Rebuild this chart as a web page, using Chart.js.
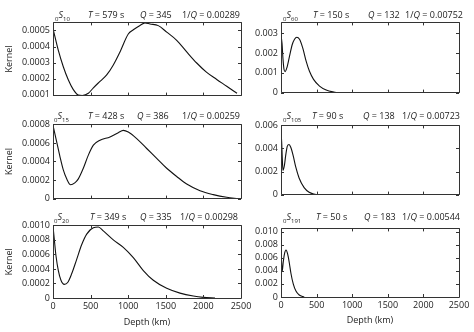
<!DOCTYPE html>
<html>
<head>
<meta charset="utf-8">
<script src="https://cdn.jsdelivr.net/npm/chart.js@4/dist/chart.umd.min.js"></script>
<style>
  body { margin: 0; background: #fff; width: 474px; height: 332px; overflow: hidden; position: relative;
         font-family: "Open Sans", "Noto Sans", sans-serif; color: #222; }
  canvas { position: absolute; }
  .it { position: absolute; height: 14px; line-height: 14px; font-size: 9px; white-space: nowrap; }
  .it i { font-style: italic; }
  .sb { font-size: 6px; position: relative; top: 3px; }
</style>
</head>
<body>
<canvas id="c10"></canvas>
<canvas id="c60"></canvas>
<canvas id="c15"></canvas>
<canvas id="c105"></canvas>
<canvas id="c20"></canvas>
<canvas id="c191"></canvas>

<script>
// depth (km) and kernel values
const depth10 = [0, 70, 137, 203, 270, 337, 390, 470, 537, 625, 714, 802, 891, 1001, 1068, 1157, 1223, 1290, 1400, 1512, 1645, 1778, 1911, 2044, 2177, 2310, 2447];
const kernel10 = [0.000512, 0.000378, 0.000275, 0.000194, 0.000133, 0.0000985, 0.0000965, 0.000110, 0.000144, 0.000184, 0.000224, 0.000286, 0.000367, 0.000478, 0.000504, 0.000531, 0.000547, 0.000540, 0.000530, 0.000490, 0.000439, 0.000367, 0.000298, 0.000240, 0.000196, 0.000154, 0.000110];

const depth15 = [0, 49, 93, 137, 182, 235, 290, 337, 403, 470, 537, 625, 758, 868, 935, 1001, 1113, 1246, 1379, 1512, 1645, 1778, 1955, 2131, 2310, 2460];
const kernel15 = [0.00079, 0.000611, 0.000451, 0.000309, 0.000213, 0.000149, 0.000170, 0.000213, 0.000327, 0.000469, 0.000576, 0.000629, 0.000665, 0.000711, 0.000736, 0.000718, 0.000647, 0.000540, 0.000434, 0.000327, 0.000238, 0.000157, 0.000085, 0.000043, 0.000014, 0.0];

const depth20 = [0, 18, 40, 71, 106, 150, 195, 248, 315, 381, 448, 537, 603, 669, 802, 935, 1068, 1201, 1334, 1512, 1689, 1866, 1999, 2154];
const kernel20 = [0.00099, 0.0008, 0.000578, 0.000378, 0.000244, 0.000187, 0.000213, 0.000333, 0.000533, 0.000733, 0.00088, 0.000969, 0.000978, 0.000924, 0.0008, 0.000698, 0.000556, 0.000378, 0.000244, 0.000133, 0.000067, 0.000027, 0.000009, 0.0];

const depth60 = [0, 14, 28, 42, 58, 82, 119, 157, 190, 222, 260, 306, 354, 400, 457, 541, 635, 775];
const kernel60 = [0.0029, 0.0025, 0.0017, 0.00118, 0.00106, 0.00125, 0.00183, 0.00242, 0.0027, 0.0028, 0.0027, 0.00225, 0.00158, 0.00108, 0.00067, 0.00033, 0.00013, 0.0];

const depth105 = [0, 9, 19, 28, 47, 66, 89, 113, 137, 170, 207, 254, 325, 395, 490];
const kernel105 = [0.0053, 0.0046, 0.0030, 0.0021, 0.0025, 0.0034, 0.0042, 0.00435, 0.0041, 0.0034, 0.0024, 0.00144, 0.0006, 0.0002, 0.0];

const depth191 = [0, 8, 16, 33, 51, 70, 93, 117, 140, 172, 210, 256, 326];
const kernel191 = [0.0070, 0.0053, 0.0039, 0.0055, 0.0067, 0.0072, 0.0066, 0.0052, 0.0036, 0.0020, 0.0009, 0.0003, 0.0];

// axis ticks
const depthTicks = [0, 500, 1000, 1500, 2000, 2500];
const yTicks10 = [0.0001, 0.0002, 0.0003, 0.0004, 0.0005];
const yTicks15 = [0, 0.0002, 0.0004, 0.0006, 0.0008];
const yTicks20 = [0, 0.0002, 0.0004, 0.0006, 0.0008, 0.0010];
const yTicks60 = [0, 0.001, 0.002, 0.003];
const yTicks105 = [0, 0.002, 0.004, 0.006];
const yTicks191 = [0, 0.002, 0.004, 0.006, 0.008, 0.010];

// panel titles: mode, period, Q, 1/Q
const modes = [
  { n: '10', T: '579', Q: '345', iq: '0.00289' },
  { n: '60', T: '150', Q: '132', iq: '0.00752' },
  { n: '15', T: '428', Q: '386', iq: '0.00259' },
  { n: '105', T: '90', Q: '138', iq: '0.00723' },
  { n: '20', T: '349', Q: '335', iq: '0.00298' },
  { n: '191', T: '50', Q: '183', iq: '0.00544' }
];

const FONT = '"Open Sans", "Noto Sans", sans-serif';
const INK = '#222';

// frame box with inward ticks on all four sides
const framePlugin = {
  id: 'boxFrame',
  afterDraw(chart) {
    const ctx = chart.ctx;
    const a = chart.chartArea;
    const xs = chart.scales.x, ys = chart.scales.y;
    const t = 3;
    ctx.save();
    ctx.strokeStyle = '#333';
    ctx.lineWidth = 1;
    ctx.beginPath();
    xs.ticks.forEach(tk => {
      const px = Math.round(xs.getPixelForValue(tk.value)) + 0.5;
      ctx.moveTo(px, a.bottom); ctx.lineTo(px, a.bottom - t);
      ctx.moveTo(px, a.top); ctx.lineTo(px, a.top + t);
    });
    ys.ticks.forEach(tk => {
      const py = Math.round(ys.getPixelForValue(tk.value)) + 0.5;
      ctx.moveTo(a.left, py); ctx.lineTo(a.left + t, py);
      ctx.moveTo(a.right, py); ctx.lineTo(a.right - t, py);
    });
    ctx.stroke();
    ctx.beginPath();
    ctx.rect(Math.round(a.left) + 0.5, Math.round(a.top) + 0.5,
             Math.round(a.right - a.left), Math.round(a.bottom - a.top));
    ctx.stroke();
    ctx.restore();
  }
};

function makePanel(id, box, depth, kernel, yTicks, yMin, yMax, dec, isLeft, isBottom) {
  const el = document.getElementById(id);
  el.style.left = box.left + 'px';
  el.style.top = box.top + 'px';
  el.style.width = box.width + 'px';
  el.style.height = box.height + 'px';
  el.width = box.width;
  el.height = box.height;

  new Chart(el, {
    type: 'line',
    data: {
      datasets: [{
        data: depth.map((d, i) => ({ x: d, y: kernel[i] })),
        borderColor: '#111',
        borderWidth: 1.1,
        pointRadius: 0,
        cubicInterpolationMode: 'monotone',
        fill: false
      }]
    },
    options: {
      responsive: false,
      animation: false,
      events: [],
      layout: { padding: { left: 0, right: box.padRight, top: 8, bottom: 0 } },
      plugins: { legend: { display: false }, tooltip: { enabled: false } },
      scales: {
        x: {
          type: 'linear', min: 0, max: 2500,
          grid: { display: false, drawTicks: false }, border: { display: false },
          afterBuildTicks: s => { s.ticks = depthTicks.map(v => ({ value: v })); },
          afterFit: s => { s.height = box.xHeight; },
          ticks: { display: isBottom, autoSkip: false, maxRotation: 0, padding: 3,
                   color: INK, font: { family: FONT, size: 9 }, callback: v => String(v) },
          title: { display: isBottom, text: 'Depth (km)', color: INK,
                   padding: { top: 0, bottom: box.titlePad },
                   font: { family: FONT, size: 9 } }
        },
        y: {
          type: 'linear', min: yMin, max: yMax,
          grid: { display: false, drawTicks: false }, border: { display: false },
          afterBuildTicks: s => { s.ticks = yTicks.map(v => ({ value: v })); },
          afterFit: s => { s.width = box.yWidth; },
          ticks: { autoSkip: false, padding: 3, color: INK, font: { family: FONT, size: 9 },
                   callback: v => v === 0 ? '0' : v.toFixed(dec) },
          title: { display: isLeft, text: 'Kernel', color: INK,
                   padding: { top: 4, bottom: 0 }, font: { family: FONT, size: 9 } }
        }
      }
    },
    plugins: [framePlugin]
  });
}

// title row: xs = left edges of mode, T and Q items; right = right edge of the 1/Q item
function addTitle(m, xs, right, top) {
  const parts = [
    '<span class="sb">0</span><i>S</i><span class="sb">' + m.n + '</span>',
    '<i>T</i> = ' + m.T + ' s',
    '<i>Q</i> = ' + m.Q,
    '1/<i>Q</i> = ' + m.iq
  ];
  parts.forEach((html, i) => {
    const s = document.createElement('div');
    s.className = 'it';
    s.style.top = top + 'px';
    if (i < 3) s.style.left = xs[i] + 'px';
    else s.style.right = (474 - right) + 'px';
    s.innerHTML = html;
    document.body.appendChild(s);
  });
}

// left column
makePanel('c10', { left: 0, top: 14, width: 262, height: 90, padRight: 21, yWidth: 53, xHeight: 8 },
          depth10, kernel10, yTicks10, 0.0000957, 0.00055, 4, true, false);
makePanel('c15', { left: 0, top: 116, width: 262, height: 91, padRight: 21, yWidth: 53, xHeight: 8 },
          depth15, kernel15, yTicks15, 0, 0.0008, 4, true, false);
makePanel('c20', { left: 0, top: 217, width: 262, height: 113, padRight: 21, yWidth: 53, xHeight: 32, titlePad: 2 },
          depth20, kernel20, yTicks20, 0, 0.0010, 4, true, true);

// right column
makePanel('c60', { left: 248, top: 14, width: 226, height: 87, padRight: 15, yWidth: 33, xHeight: 8 },
          depth60, kernel60, yTicks60, 0, 0.00355, 3, false, false);
makePanel('c105', { left: 248, top: 117, width: 226, height: 86, padRight: 15, yWidth: 33, xHeight: 8 },
          depth105, kernel105, yTicks105, 0, 0.006, 3, false, false);
makePanel('c191', { left: 248, top: 220, width: 226, height: 110, padRight: 15, yWidth: 33, xHeight: 33, titlePad: 4 },
          depth191, kernel191, yTicks191, 0, 0.0105, 3, false, true);

addTitle(modes[0], [55, 88, 140], 240, 8);
addTitle(modes[1], [283, 313, 368], 463, 8);
addTitle(modes[2], [54, 88, 137], 240, 109);
addTitle(modes[3], [283, 312, 363], 460, 109);
addTitle(modes[4], [54, 90, 140], 238, 210);
addTitle(modes[5], [283, 316, 364], 460, 210);
</script>
</body>
</html>
